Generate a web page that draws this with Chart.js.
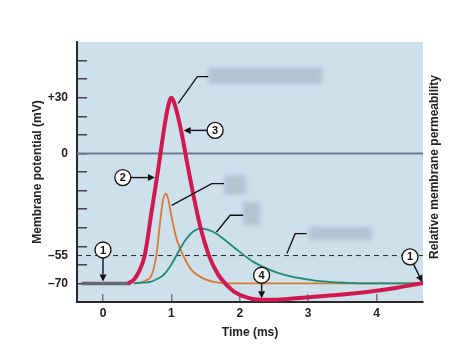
<!DOCTYPE html>
<html>
<head>
<meta charset="utf-8">
<script src="https://cdn.jsdelivr.net/npm/chart.js@4.4.0/dist/chart.umd.min.js"></script>
<style>
  html, body { margin: 0; padding: 0; background: #fff; }
  canvas { display: block; }
</style>
</head>
<body>
<canvas id="MyChart" width="474" height="353"></canvas>
<script>
// axis ticks
const timeTicks = [0, 1, 2, 3, 4]
const voltageTicks = [50, 40, 30, 20, 10, 0, -10, -20, -30, -40, -50, -55, -60, -70]
const labeledVoltages = [30, 0, -55, -70]

// resting part (before the spike)
const restTime = [-0.31, 0.4]
const restValues = [-70, -70]

// membrane potential (mV)
const potentialTime = [0.37, 0.45, 0.52, 0.61, 0.71, 0.81, 0.88, 0.95, 1.0, 1.06, 1.15, 1.23, 1.32, 1.42, 1.55, 1.68, 1.8, 1.92, 2.1, 2.3, 2.6, 3.08, 3.5, 3.86, 4.3, 4.68]
const potentialValues = [-70, -68, -64, -55, -31.5, -8, 10, 25, 30, 25, 11, -5, -22, -39, -55, -65, -70.5, -74.5, -77.5, -78.8, -78.6, -77.2, -76, -74.6, -72.3, -69.8]

// Na+ permeability (drawn on the same frame)
const sodiumTime = [0.45, 0.55, 0.62, 0.71, 0.78, 0.83, 0.87, 0.91, 0.95, 0.98, 1.03, 1.08, 1.18, 1.3, 1.45, 1.6, 1.9, 4.68]
const sodiumValues = [-70, -69.6, -68.5, -65.6, -55, -38.7, -27, -21.7, -24, -29.7, -39, -46.5, -55.5, -63, -67, -69, -70, -70]

// K+ permeability
const potassiumTime = [0.45, 0.58, 0.69, 0.79, 0.88, 0.97, 1.05, 1.14, 1.22, 1.32, 1.42, 1.54, 1.66, 1.91, 2.2, 2.59, 3.08, 3.57, 3.9, 4.68]
const potassiumValues = [-70, -69.6, -69.2, -67.6, -65.6, -61.5, -56.6, -50.5, -45.9, -42, -40.5, -41.2, -43.2, -50.4, -58.4, -64.7, -68.3, -69.7, -70, -70]

// reference lines
const lineTime = [-0.38, 4.68]
const zeroValues = [0, 0]
const thresholdValues = [-55, -55]

function pts(xs, ys){
    return xs.map((x, i) => ({x: x, y: ys[i]}))
}

// numbered arrows and blanked-out labels (data units)
const callouts = [
    {n: '1', cx: 0, cy: -52, tx: 0, ty: -69},
    {n: '2', cx: 0.29, cy: -13, tx: 0.76, ty: -13},
    {n: '3', cx: 1.64, cy: 12.4, tx: 1.18, ty: 12.4},
    {n: '4', cx: 2.32, cy: -65.6, tx: 2.32, ty: -78},
    {n: '1', cx: 4.49, cy: -55.7, tx: 4.67, ty: -69.4}
]
const blanks = [
    {x0: 1.54, x1: 3.21, y0: 46.2, y1: 37.6, lead: [[1.10, 26.9], [1.38, 41.4], [1.54, 41.4]]},
    {x0: 1.77, x1: 2.09, y0: -11.8, y1: -22, lead: [[1.005, -28], [1.59, -16.3], [1.77, -16.3]]},
    {x0: 2.05, x1: 2.30, y0: -26.2, y1: -38.7, lead: [[1.66, -42.3], [1.86, -33.3], [2.05, -33.3]]},
    {x0: 3.01, x1: 3.93, y0: -39.6, y1: -46.8, lead: [[2.69, -53.9], [2.81, -43.2], [2.98, -43.2]]}
]

const FONT = "'Liberation Sans', Arial, Helvetica, sans-serif"

const decorations = {
    id: 'decorations',
    beforeDraw(chart){
        const {ctx, chartArea: a} = chart
        ctx.save()
        ctx.fillStyle = '#cde0ec'
        ctx.fillRect(a.left, a.top, a.right - a.left, a.bottom - a.top)
        ctx.restore()
    },
    afterDatasetsDraw(chart){
        const ctx = chart.ctx
        const xs = chart.scales.x, ys = chart.scales.y
        const px = v => xs.getPixelForValue(v)
        const py = v => ys.getPixelForValue(v)
        ctx.save()

        // blurred label boxes
        blanks.forEach(b => {
            ctx.save()
            ctx.filter = 'blur(2px)'
            ctx.fillStyle = '#b2c3d0'
            ctx.fillRect(px(b.x0), py(b.y0), px(b.x1) - px(b.x0), py(b.y1) - py(b.y0))
            ctx.restore()
            ctx.strokeStyle = '#111'
            ctx.lineWidth = 1.3
            ctx.beginPath()
            b.lead.forEach((p, i) => {
                if (i === 0) ctx.moveTo(px(p[0]), py(p[1]))
                else ctx.lineTo(px(p[0]), py(p[1]))
            })
            ctx.stroke()
        })

        // circled numbers with arrows
        const r = 8
        callouts.forEach(c => {
            const cx = px(c.cx), cy = py(c.cy), tx = px(c.tx), ty = py(c.ty)
            const ang = Math.atan2(ty - cy, tx - cx)
            const sx = cx + r * Math.cos(ang), sy = cy + r * Math.sin(ang)
            const hl = 7, hw = 3.5
            const bx = tx - hl * Math.cos(ang), by = ty - hl * Math.sin(ang)
            ctx.strokeStyle = '#111'
            ctx.fillStyle = '#111'
            ctx.lineWidth = 1.4
            ctx.beginPath()
            ctx.moveTo(sx, sy)
            ctx.lineTo(bx, by)
            ctx.stroke()
            ctx.beginPath()
            ctx.moveTo(tx, ty)
            ctx.lineTo(bx + hw * Math.sin(ang), by - hw * Math.cos(ang))
            ctx.lineTo(bx - hw * Math.sin(ang), by + hw * Math.cos(ang))
            ctx.closePath()
            ctx.fill()

            ctx.beginPath()
            ctx.arc(cx, cy, r, 0, Math.PI * 2)
            ctx.fillStyle = '#fff'
            ctx.fill()
            ctx.lineWidth = 1.3
            ctx.stroke()
            ctx.fillStyle = '#111'
            ctx.font = 'bold 11px ' + FONT
            ctx.textAlign = 'center'
            ctx.textBaseline = 'middle'
            ctx.fillText(c.n, cx, cy + 0.5)
        })

        // right axis title
        ctx.translate(435, (chart.chartArea.top + chart.chartArea.bottom) / 2 - 5)
        ctx.rotate(-Math.PI / 2)
        ctx.fillStyle = '#222'
        ctx.font = 'bold 12px ' + FONT
        ctx.textAlign = 'center'
        ctx.textBaseline = 'middle'
        ctx.fillText('Relative membrane permeability', 0, 0)
        ctx.restore()
    }
}

const ctx = document.getElementById('MyChart').getContext('2d')

new Chart(ctx, {
    type: 'line',
    data: {
        datasets: [
            {data: pts(potentialTime, potentialValues), borderColor: '#d1184f', borderWidth: 4, cubicInterpolationMode: 'monotone'},
            {data: pts(potassiumTime, potassiumValues), borderColor: '#1f8a77', borderWidth: 1.8, cubicInterpolationMode: 'monotone'},
            {data: pts(sodiumTime, sodiumValues), borderColor: '#d97a32', borderWidth: 1.8, cubicInterpolationMode: 'monotone'},
            {data: pts(restTime, restValues), borderColor: '#6c6470', borderWidth: 3.5},
            {data: pts(lineTime, zeroValues), borderColor: '#6b7b8f', borderWidth: 2},
            {data: pts(lineTime, thresholdValues), borderColor: '#222', borderWidth: 1, borderDash: [5, 4]}
        ]
    },
    options: {
        responsive: false,
        animation: false,
        devicePixelRatio: 1,
        layout: {padding: {top: 42, right: 51, left: 0, bottom: 0}},
        elements: {point: {radius: 0}, line: {fill: false}},
        plugins: {legend: {display: false}, tooltip: {enabled: false}},
        scales: {
            x: {
                type: 'linear',
                min: -0.38,
                max: 4.68,
                afterBuildTicks: s => { s.ticks = timeTicks.map(v => ({value: v})) },
                afterFit: s => { s.height = 51 },
                grid: {drawOnChartArea: false, drawTicks: true, tickLength: -8, color: '#777', lineWidth: 1.5},
                border: {display: true, color: '#2a2a2a', width: 2},
                ticks: {color: '#222', padding: 12, font: {family: FONT, size: 12, weight: 'bold'}},
                title: {display: true, text: 'Time (ms)', color: '#222', padding: {top: 0, bottom: 13}, font: {family: FONT, size: 12, weight: 'bold'}}
            },
            y: {
                type: 'linear',
                min: -80,
                max: 60,
                afterBuildTicks: s => { s.ticks = voltageTicks.map(v => ({value: v})) },
                afterFit: s => { s.width = 77 },
                grid: {
                    drawOnChartArea: false, drawTicks: true, tickLength: -10, lineWidth: 1.5,
                    color: c => (c.tick && c.tick.value === -55) ? 'rgba(0,0,0,0)' : '#444'
                },
                border: {display: true, color: '#2a2a2a', width: 2},
                ticks: {
                    color: '#222', padding: 19,
                    font: {family: FONT, size: 12, weight: 'bold'},
                    callback: v => {
                        if (!labeledVoltages.includes(v)) return ''
                        return v > 0 ? '+' + v : (v < 0 ? '\u2013' + Math.abs(v) : '0')
                    }
                },
                title: {display: true, text: 'Membrane potential (mV)', color: '#222', padding: {top: 30, bottom: 0}, font: {family: FONT, size: 12, weight: 'bold'}}
            }
        }
    },
    plugins: [decorations]
})
</script>
</body>
</html>
